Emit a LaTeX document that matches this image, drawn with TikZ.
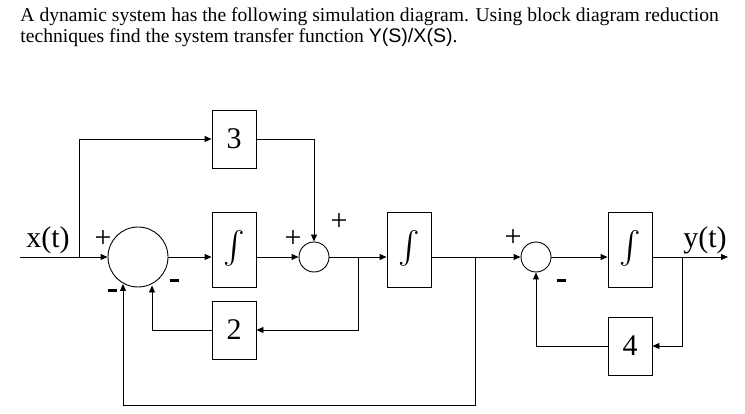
\documentclass[tikz,border=0pt]{standalone}
\usepackage{fontspec}
\setmainfont{Liberation Serif}
\newfontfamily\sans{Liberation Sans}
\usetikzlibrary{arrows.meta}
\newcommand{\bigint}{\resizebox{!}{38pt}{$\int$}}
\begin{document}
\begin{tikzpicture}[x=1pt,y=-1pt,line width=0.9pt,
  blk/.style={draw,minimum width=44pt,font=\fontsize{30}{32}\selectfont,inner sep=0pt},
  sum/.style={draw,circle,inner sep=0pt},
  arr/.style={-{Triangle[length=7pt,width=6pt]}},
  lab/.style={font=\fontsize{30}{32}\selectfont,inner sep=0pt},
  mn/.style={inner sep=0pt}]
\useasboundingbox (0,0) rectangle (745,414);
\node[anchor=base west,inner sep=0pt,font=\fontsize{19.6}{22}\selectfont] (t1) at (20,22) {A dynamic system has the following simulation diagram. Using block diagram reduction};
\node[anchor=base west,inner sep=0pt,font=\fontsize{19.6}{22}\selectfont] (t2) at (20,43) {techniques find the system transfer function {\sans Y(S)/X(S)}.};
\coordinate (in) at (20,257);
\coordinate (b0) at (79,257);
\node[sum,minimum size=60pt] (s1) at (138,257) {};
\node[blk,minimum height=58pt] (k3) at (234,139) {3};
\node[blk,minimum height=75pt] (i1) at (234,250) {\bigint};
\node[sum,minimum size=30pt] (s2) at (314,257) {};
\node[blk,minimum height=58pt] (k2) at (234,330) {2};
\node[blk,minimum height=75pt] (i2) at (409,250) {\bigint};
\node[sum,minimum size=30pt] (s3) at (536,257) {};
\node[blk,minimum height=75pt] (i3) at (630,250) {\bigint};
\node[blk,minimum height=58pt] (k4) at (630,346) {4};
\coordinate (b1) at (358,257);
\coordinate (b2) at (475,257);
\coordinate (b3) at (682,257);
\coordinate (out) at (728,257);
\draw[arr] (in) -- (s1.west);
\draw[arr] (b0) |- (k3.west);
\draw[arr] (k3.east) -| (s2.north);
\draw[arr] (s1.east) -- (i1.west |- s1);
\draw[arr] (i1.east |- s2) -- (s2.west);
\draw[arr] (s2.east) -- (i2.west |- s2);
\draw[arr] (b1) |- (k2.east);
\draw[arr] (k2.west) -| (152,285.5);
\draw[arr] (b2) |- (123,405) -- (123,284);
\draw[arr] (i2.east |- s2) -- (s3.west);
\draw[arr] (s3.east) -- (i3.west |- s3);
\draw[arr] (i3.east |- s3) -- (out);
\draw[arr] (b3) |- (k4.east);
\draw[arr] (k4.west) -| (s3.south);
\node[lab] (lx) at (48,240) {x(t)};
\node[lab] (p1) at (103,239) {+};
\node[mn] (m1) at (174,281) {\rule{9pt}{3pt}};
\node[mn] (m2) at (112,291) {\rule{9pt}{3pt}};
\node[lab] (p2) at (293,239) {+};
\node[lab] (p3) at (339,222) {+};
\node[lab] (p4) at (513,238) {+};
\node[mn] (m3) at (561,281) {\rule{9pt}{3pt}};
\node[lab] (ly) at (705,240) {y(t)};
\end{tikzpicture}
\end{document}
